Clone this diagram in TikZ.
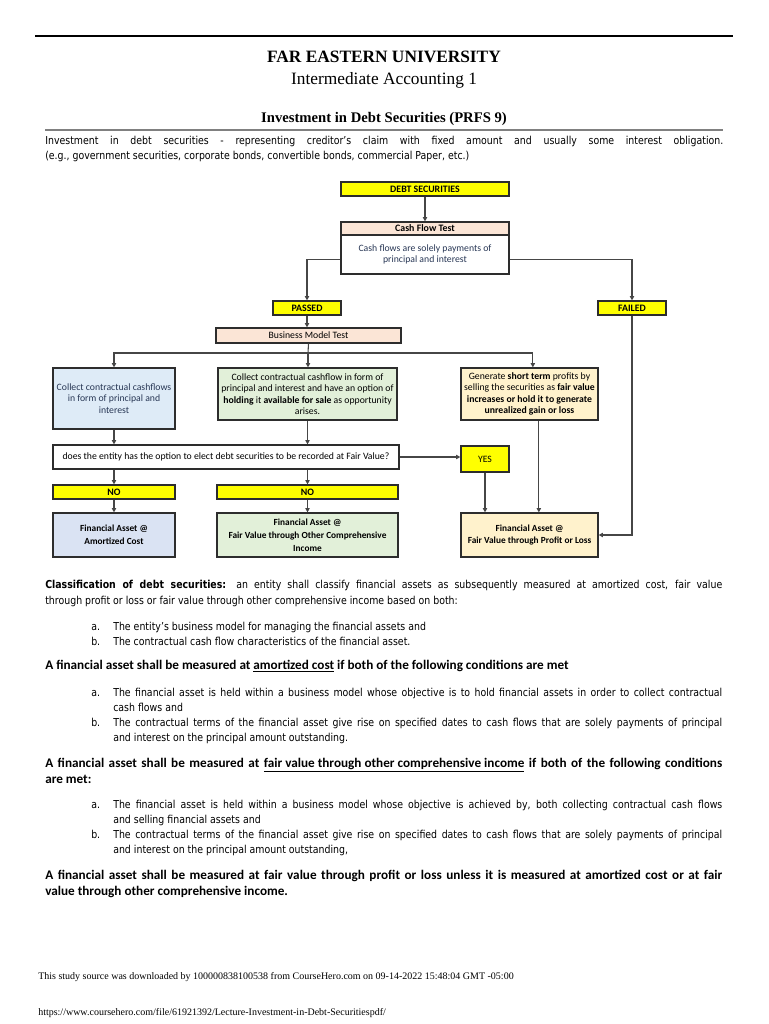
\documentclass[tikz,border=0pt]{standalone}
\usepackage{fontspec}
\setmainfont{Liberation Serif}
\newfontfamily\boxfont{Carlito}
\newfontfamily\bodyfont[FakeStretch=0.86]{DejaVu Sans}
\usetikzlibrary{arrows.meta}

\definecolor{ylw}{RGB}{255,255,0}
\definecolor{peach}{RGB}{251,229,214}
\definecolor{skyblue}{RGB}{222,235,247}
\definecolor{mint}{RGB}{226,240,217}
\definecolor{cream}{RGB}{255,242,204}
\definecolor{lavend}{RGB}{218,227,243}
\definecolor{edge}{RGB}{45,45,45}
\definecolor{wire}{RGB}{70,70,70}
\definecolor{navytext}{RGB}{40,55,85}

\tikzset{
  box/.style={draw=edge, line width=0.9pt, inner sep=0.5pt, align=center, font=\boxfont\fontsize{7.3}{8.6}\selectfont},
  tag/.style={box, fill=ylw, font=\boxfont\bfseries\fontsize{7.4}{8}\selectfont},
  result/.style={box, font=\boxfont\bfseries\fontsize{7}{9.6}\selectfont},
  wire/.style={draw=wire, line width=0.8pt, -{Triangle[length=3.2pt,width=3.2pt]}},
  para/.style={anchor=base west, inner sep=0pt, text width=#1, align=justify, font=\bodyfont\fontsize{8.2}{11.25}\selectfont},
  headline/.style={anchor=base west, inner sep=0pt, text width=#1, align=justify, font=\boxfont\bfseries\fontsize{9.9}{12}\selectfont},
}

\begin{document}
\begin{tikzpicture}[x=0.75pt,y=0.75pt,yscale=-1,xscale=1]
\path[fill=white] (0,0) rectangle (768,1024);
\useasboundingbox (0,0) rectangle (768,1024);

%Page header
\draw[line width=1.1pt] (35,36) -- (733,36);
\node[font=\bfseries\fontsize{13}{15}\selectfont] (uni) at (384,57) {FAR EASTERN UNIVERSITY};
\node[font=\fontsize{13}{15}\selectfont] (course) at (384,80) {Intermediate Accounting 1};
\node[font=\bfseries\fontsize{11}{13}\selectfont] (topic) at (384,119) {Investment in Debt Securities (PRFS 9)};
\draw[draw=gray, line width=1.4pt] (45,130) -- (723,130);
\node[para=508.5pt] (intro) at (45,144) {Investment in debt securities - representing creditor’s claim with fixed amount and usually some interest obligation.\linebreak (e.g., government securities, corporate bonds, convertible bonds, commercial Paper, etc.)};

%Flowchart boxes
\node[tag, minimum width=126pt, minimum height=10.5pt] (debt) at (425,189) {DEBT SECURITIES};
\node[box, fill=peach, font=\boxfont\bfseries\fontsize{7.4}{8}\selectfont, minimum width=126pt, minimum height=9.75pt] (cfthead) at (425,228.5) {Cash Flow Test};
\node[box, text=navytext, minimum width=126pt, minimum height=29.25pt] (cftbody) at (425,254.5) {Cash flows are solely payments of\\principal and interest};
\node[tag, minimum width=51pt, minimum height=10.5pt] (passed) at (307,308) {PASSED};
\node[tag, minimum width=51pt, minimum height=10.5pt] (failed) at (632,308) {FAILED};
\node[box, fill=peach, minimum width=138.75pt, minimum height=11.25pt] (bmt) at (308.5,335.5) {Business Model Test};
\coordinate (split) at (308,353);

\node[box, fill=skyblue, text=navytext, minimum width=91.5pt, minimum height=45.75pt] (collect) at (114,398.5) {Collect contractual cashflows\\in form of principal and\\interest};
\node[box, fill=mint, minimum width=134.25pt, minimum height=39pt] (hold) at (307.5,394) {Collect contractual cashflow in form of\\principal and interest and have an option of\\\textbf{holding} it \textbf{available for sale} as opportunity\\arises.};
\node[box, fill=cream, minimum width=102.75pt, minimum height=39pt] (trade) at (529.5,394) {Generate \textbf{short term} profits by\\selling the securities as \textbf{fair value}\\\textbf{increases or hold it to generate}\\\textbf{unrealized gain or loss}};

\node[box, minimum width=259.5pt, minimum height=18pt] (ask) at (226,457) {does the entity has the option to elect debt securities to be recorded at Fair Value?};
\node[tag, font=\boxfont\fontsize{7.3}{8}\selectfont, minimum width=36pt, minimum height=19.5pt] (yes) at (485,459) {YES};
\node[tag, minimum width=91.5pt, minimum height=10.5pt] (no1) at (114,492) {NO};
\node[tag, minimum width=135.75pt, minimum height=10.5pt] (no2) at (307.5,492) {NO};

\node[result, fill=lavend, minimum width=91.5pt, minimum height=33pt] (amort) at (114,535) {Financial Asset @\\Amortized Cost};
\node[result, fill=mint, minimum width=135.75pt, minimum height=33pt] (fvoci) at (307.5,535) {Financial Asset @\\Fair Value through Other Comprehensive\\Income};
\node[result, fill=cream, minimum width=102.75pt, minimum height=33pt] (fvpl) at (529.5,535) {Financial Asset @\\Fair Value through Profit or Loss};

%Connectors
\draw[wire] (debt) -- (cfthead);
\draw[wire] ([yshift=4pt]cftbody.west) -| (passed.north);
\draw[wire] ([yshift=4pt]cftbody.east) -| (failed.north);
\draw[wire] (passed.south) -- (passed.south |- bmt.north);
\draw[wire, -] (bmt.south) -- (split);
\draw[wire] (split) -| (collect.north);
\draw[wire] (split) -- (split |- hold.north);
\draw[wire] (split) -| ([xshift=2.5pt]trade.north);
\draw[wire] (collect.south) -- (collect.south |- ask.north);
\draw[wire] (hold.south) -- (hold.south |- ask.north);
\draw[wire] (ask.east) -- (ask.east -| yes.west);
\draw[wire] (ask.south -| no1.north) -- (no1.north);
\draw[wire] (ask.south -| no2.north) -- (no2.north);
\draw[wire] (no1) -- (amort);
\draw[wire] (no2) -- (fvoci);
\draw[wire] (yes.south) -- (yes.south |- fvpl.north);
\draw[wire] ([xshift=7pt]trade.south) -- ([xshift=7pt]fvpl.north);
\draw[wire] (failed.south) |- (fvpl.east);

%Classification text
\node[para=507.75pt, font=\bodyfont\fontsize{8.2}{12}\selectfont] (classify) at (45,588) {\textbf{Classification of debt securities:} an entity shall classify financial assets as subsequently measured at amortized cost, fair value\linebreak through profit or loss or fair value through other comprehensive income based on both:};
\node[para=473.25pt] (basis) at (91,630) {\hangindent=16.5pt\hangafter=1\makebox[16.5pt][l]{a.}The entity’s business model for managing the financial assets and\par
\hangindent=16.5pt\hangafter=1\makebox[16.5pt][l]{b.}The contractual cash flow characteristics of the financial asset.\par};

\node[headline=507.75pt] (amorthead) at (45,669) {A financial asset shall be measured at \underline{amortized cost} if both of the following conditions are met};
\node[para=473.25pt] (amortlist) at (91,696) {\hangindent=16.5pt\hangafter=1\makebox[16.5pt][l]{a.}The financial asset is held within a business model whose objective is to hold financial assets in order to collect contractual\linebreak cash flows and\par
\hangindent=16.5pt\hangafter=1\makebox[16.5pt][l]{b.}The contractual terms of the financial asset give rise on specified dates to cash flows that are solely payments of principal\linebreak and interest on the principal amount outstanding.\par};

\node[headline=507.75pt] (fvocihead) at (45,767) {A financial asset shall be measured at \underline{fair value through other comprehensive income} if both of the following conditions\linebreak are met:};
\node[para=473.25pt] (fvocilist) at (91,808) {\hangindent=16.5pt\hangafter=1\makebox[16.5pt][l]{a.}The financial asset is held within a business model whose objective is achieved by, both collecting contractual cash flows\linebreak and selling financial assets and\par
\hangindent=16.5pt\hangafter=1\makebox[16.5pt][l]{b.}The contractual terms of the financial asset give rise on specified dates to cash flows that are solely payments of principal\linebreak and interest on the principal amount outstanding,\par};

\node[headline=507.75pt] (fvplhead) at (45,879) {A financial asset shall be measured at fair value through profit or loss unless it is measured at amortized cost or at fair\linebreak value through other comprehensive income.};

%Footer
\node[anchor=base west, inner sep=0pt, font=\fontsize{7.5}{9}\selectfont] (source) at (38,979) {This study source was downloaded by 100000838100538 from CourseHero.com on 09-14-2022 15:48:04 GMT -05:00};
\node[anchor=base west, inner sep=0pt, font=\fontsize{7.5}{9}\selectfont] (link) at (38,1015) {https://www.coursehero.com/file/61921392/Lecture-Investment-in-Debt-Securitiespdf/};

\end{tikzpicture}
\end{document}
